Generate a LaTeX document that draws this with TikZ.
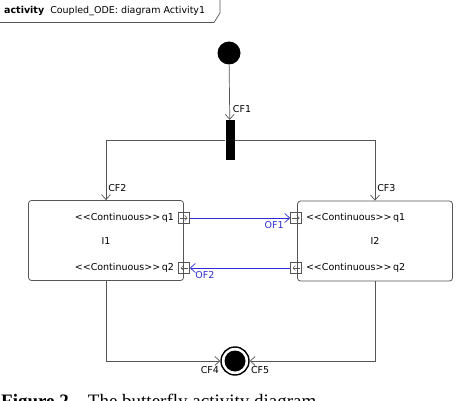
\documentclass[tikz,border=0pt]{standalone}
\usepackage{fontspec}
\setmainfont{DejaVu Sans}
\newfontfamily\capfont{Liberation Serif}
\usetikzlibrary{arrows.meta,positioning}
\newcommand{\stereo}[1]{{<}{<}#1{>}{>}\,}
\definecolor{linegray}{RGB}{85,85,85}
\definecolor{flowblue}{RGB}{45,45,215}
\tikzset{
    %Define standard arrow tip
    >={Straight Barb[length=5pt,width=9pt]},
    %Define style for nodes
    startnode/.style={
           circle,
           fill=black,
           minimum size=23pt,
           inner sep=0pt},
    forkbar/.style={
           rectangle,
           fill=black,
           minimum width=9pt,
           minimum height=40pt,
           inner sep=0pt},
    actionbox/.style={
           rectangle,
           rounded corners=3pt,
           draw=linegray, line width=0.8pt,
           minimum width=155pt,
           minimum height=80pt},
    pinbox/.style={
           rectangle,
           draw=linegray, line width=0.6pt,
           minimum size=11pt,
           inner sep=0pt},
    pinin/.style={
           pinbox,
           path picture={\draw[linegray,line width=0.5pt,-{Straight Barb[length=2.5pt,width=5pt]}]
             ([xshift=-4pt]path picture bounding box.center) -- ([xshift=3.5pt]path picture bounding box.center);}},
    pinout/.style={
           pinbox,
           path picture={\draw[linegray,line width=0.5pt,-{Straight Barb[length=2.5pt,width=5pt]}]
             ([xshift=4pt]path picture bounding box.center) -- ([xshift=-3.5pt]path picture bounding box.center);}},
    endnode/.style={
           circle,
           draw=black, line width=1.4pt,
           minimum size=28pt,
           inner sep=0pt,
           path picture={\fill[black] (path picture bounding box.center) circle (10.5pt);}},
    txt/.style={
           font=\fontsize{9.5}{11}\selectfont,
           inner sep=1pt},
    % Define arrow style
    ctrl/.style={
           ->,
           draw=linegray,
           line width=0.7pt},
    obj/.style={
           ->,
           draw=flowblue,
           line width=0.7pt},
    objlabel/.style={
           txt,
           text=flowblue}
}
\begin{document}
\begin{tikzpicture}[x=1pt,y=-1pt]
\useasboundingbox (0,0) rectangle (474,401);
 %frame tab
\node[txt, anchor=west] (title) at (3,11) {\textbf{activity}\ \ Coupled\_ODE: diagram Activity1};
\draw[linegray, line width=0.7pt] (0,22.5) -- (214,22.5) -- (220,13) -- (220,0);
 %nodes
\node[startnode] (start) at (229,53) {};
\node[forkbar] (fork) at (230,140) {};
\node[actionbox] (I1) at (106,240.5) {};
\node[actionbox] (I2) at (375,241) {};
\node[txt] (I1name) at (106,241) {I1};
\node[txt] (I2name) at (375,241) {I2};
\node[pinin] (I1q1) at (184,218) {};
\node[pinout] (I1q2) at (184,268) {};
\node[pinin] (I2q1) at (296,218) {};
\node[pinout] (I2q2) at (296,268) {};
\node[txt, left=3pt of I1q1] (I1q1txt) {\stereo{Continuous}q1};
\node[txt, left=3pt of I1q2] (I1q2txt) {\stereo{Continuous}q2};
\node[txt, right=3pt of I2q1] (I2q1txt) {\stereo{Continuous}q1};
\node[txt, right=3pt of I2q2] (I2q2txt) {\stereo{Continuous}q2};
\node[endnode] (final) at (235,361) {};

 %control flows
\path[ctrl] (start) edge node[txt, right, pos=.8, xshift=2pt] {CF1} (fork);
\draw[ctrl] (fork.west) -| (I1.north) node[txt, right, pos=.9, xshift=1pt] {CF2};
\draw[ctrl] (fork.east) -| (I2.north) node[txt, right, pos=.9, xshift=1pt] {CF3};
\draw[ctrl] (I1.south) |- (final.west) node[txt, below left, pos=1, yshift=-4pt] {CF4};
\draw[ctrl] (I2.south) |- (final.east) node[txt, below right, pos=1, yshift=-4pt] {CF5};

 %object flows
\draw[obj] (I1q1) -- (I2q1) node[objlabel, below, pos=.84, yshift=-2pt] {OF1};
\draw[obj] (I2q2) -- (I1q2) node[objlabel, below, pos=.85, yshift=-2pt] {OF2};

 %caption
\node[font=\capfont\fontsize{19}{22}\selectfont, anchor=base west, inner sep=0pt] (caption) at (1,407) {\textbf{Figure 2}\quad The butterfly activity diagram};
\end{tikzpicture}
\end{document}
